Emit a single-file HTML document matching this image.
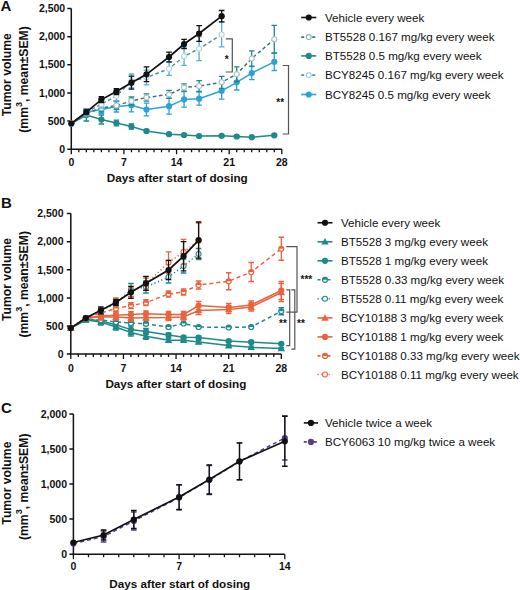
<!DOCTYPE html><html><head><meta charset="utf-8"><style>
html,body{margin:0;padding:0;background:#fff;}
svg{display:block;}
text{font-family:"Liberation Sans",sans-serif;fill:#111;}
.tl{font-size:10.5px;font-weight:bold;}
.at{font-size:12.2px;font-weight:bold;}
.xt{font-size:11.7px;font-weight:bold;}
.pl{font-size:15px;font-weight:bold;}
.lg{font-size:11.6px;}
.st{font-size:10px;font-weight:bold;}
</style></head><body>
<svg width="520" height="590" viewBox="0 0 520 590">
<text x="0.5" y="11.2" class="pl">A</text>
<path d="M71.3 8.5V149.2H281.8" fill="none" stroke="#111" stroke-width="1.5"/>
<path d="M67.3 149.2H71.3M67.3 121.06H71.3M67.3 92.92H71.3M67.3 64.78H71.3M67.3 36.64H71.3M67.3 8.5H71.3" stroke="#111" stroke-width="1.5"/>
<path d="M71.3 149.2V154.2M78.82 149.2V152.2M86.34 149.2V152.2M93.85 149.2V152.2M101.37 149.2V152.2M108.89 149.2V152.2M116.41 149.2V152.2M123.93 149.2V154.2M131.44 149.2V152.2M138.96 149.2V152.2M146.48 149.2V152.2M154 149.2V152.2M161.52 149.2V152.2M169.03 149.2V152.2M176.55 149.2V154.2M184.07 149.2V152.2M191.59 149.2V152.2M199.11 149.2V152.2M206.62 149.2V152.2M214.14 149.2V152.2M221.66 149.2V152.2M229.18 149.2V154.2M236.7 149.2V152.2M244.21 149.2V152.2M251.73 149.2V152.2M259.25 149.2V152.2M266.77 149.2V152.2M274.29 149.2V152.2M281.8 149.2V154.2" stroke="#111" stroke-width="1.3"/>
<text x="65.2" y="152.9" class="tl" text-anchor="end">0</text>
<text x="65.2" y="124.76" class="tl" text-anchor="end">500</text>
<text x="65.2" y="96.62" class="tl" text-anchor="end">1,000</text>
<text x="65.2" y="68.48" class="tl" text-anchor="end">1,500</text>
<text x="65.2" y="40.34" class="tl" text-anchor="end">2,000</text>
<text x="65.2" y="12.2" class="tl" text-anchor="end">2,500</text>
<text x="71.3" y="165.6" class="tl" text-anchor="middle">0</text>
<text x="123.93" y="165.6" class="tl" text-anchor="middle">7</text>
<text x="176.55" y="165.6" class="tl" text-anchor="middle">14</text>
<text x="229.18" y="165.6" class="tl" text-anchor="middle">21</text>
<text x="281.8" y="165.6" class="tl" text-anchor="middle">28</text>
<text transform="translate(11.2,74.7) rotate(-90)" class="at" text-anchor="middle">Tumor volume</text>
<text transform="translate(28,79.5) rotate(-90)" class="at" text-anchor="middle">(mm<tspan font-size="9px" dy="-6">3</tspan><tspan dy="6">, mean±SEM)</tspan></text>
<text x="177.3" y="182.4" class="xt" text-anchor="middle">Days after start of dosing</text>
<path d="M86.34 109V121M83.54 109H89.14M83.54 121H89.14M101.37 115V124M98.57 115H104.17M98.57 124H104.17M116.41 120.2V125.8M113.61 120.2H119.21M113.61 125.8H119.21M131.44 123.9V129.1M128.64 123.9H134.24M128.64 129.1H134.24M146.48 129.5V132.5M143.68 129.5H149.28M143.68 132.5H149.28M169.03 133.2V135.2M166.23 133.2H171.83M166.23 135.2H171.83M184.07 134V136M181.27 134H186.87M181.27 136H186.87M199.11 135V137M196.31 135H201.91M196.31 137H201.91M221.66 134.8V136.8M218.86 134.8H224.46M218.86 136.8H224.46M236.7 135.5V137.5M233.9 135.5H239.5M233.9 137.5H239.5M251.73 136.2V138.2M248.93 136.2H254.53M248.93 138.2H254.53M274.29 134.1V136.5M271.49 134.1H277.09M271.49 136.5H277.09" stroke="#1e8a8c" stroke-width="1.3" fill="none"/>
<path d="M71.3 123.5 L86.34 115 L101.37 119.5 L116.41 123 L131.44 126.5 L146.48 131 L169.03 134.2 L184.07 135 L199.11 136 L221.66 135.8 L236.7 136.5 L251.73 137.2 L274.29 135.3" stroke="#1e8a8c" stroke-width="1.5" fill="none"/>
<circle cx="71.3" cy="123.5" r="3.1" fill="#1e8a8c"/>
<circle cx="86.34" cy="115" r="3.1" fill="#1e8a8c"/>
<circle cx="101.37" cy="119.5" r="3.1" fill="#1e8a8c"/>
<circle cx="116.41" cy="123" r="3.1" fill="#1e8a8c"/>
<circle cx="131.44" cy="126.5" r="3.1" fill="#1e8a8c"/>
<circle cx="146.48" cy="131" r="3.1" fill="#1e8a8c"/>
<circle cx="169.03" cy="134.2" r="3.1" fill="#1e8a8c"/>
<circle cx="184.07" cy="135" r="3.1" fill="#1e8a8c"/>
<circle cx="199.11" cy="136" r="3.1" fill="#1e8a8c"/>
<circle cx="221.66" cy="135.8" r="3.1" fill="#1e8a8c"/>
<circle cx="236.7" cy="136.5" r="3.1" fill="#1e8a8c"/>
<circle cx="251.73" cy="137.2" r="3.1" fill="#1e8a8c"/>
<circle cx="274.29" cy="135.3" r="3.1" fill="#1e8a8c"/>
<path d="M86.34 109V115M83.54 109H89.14M83.54 115H89.14M101.37 105.5V113.5M98.57 105.5H104.17M98.57 113.5H104.17M116.41 101V112M113.61 101H119.21M113.61 112H119.21M131.44 98.8V111.8M128.64 98.8H134.24M128.64 111.8H134.24M146.48 103.1V115.9M143.68 103.1H149.28M143.68 115.9H149.28M169.03 98.2V114.2M166.23 98.2H171.83M166.23 114.2H171.83M184.07 91.6V107.2M181.27 91.6H186.87M181.27 107.2H186.87M199.11 92.2V105.2M196.31 92.2H201.91M196.31 105.2H201.91M221.66 82.4V99.2M218.86 82.4H224.46M218.86 99.2H224.46M236.7 74.6V90M233.9 74.6H239.5M233.9 90H239.5M251.73 66.6V79.6M248.93 66.6H254.53M248.93 79.6H254.53M274.29 53.1V70.5M271.49 53.1H277.09M271.49 70.5H277.09" stroke="#2ea2d8" stroke-width="1.3" fill="none"/>
<path d="M71.3 123.5 L86.34 112 L101.37 109.5 L116.41 106.5 L131.44 105.3 L146.48 109.5 L169.03 106.2 L184.07 99.4 L199.11 98.7 L221.66 90.8 L236.7 82.3 L251.73 73.1 L274.29 61.8" stroke="#2ea2d8" stroke-width="1.5" fill="none"/>
<circle cx="71.3" cy="123.5" r="3.1" fill="#2ea2d8"/>
<circle cx="86.34" cy="112" r="3.1" fill="#2ea2d8"/>
<circle cx="101.37" cy="109.5" r="3.1" fill="#2ea2d8"/>
<circle cx="116.41" cy="106.5" r="3.1" fill="#2ea2d8"/>
<circle cx="131.44" cy="105.3" r="3.1" fill="#2ea2d8"/>
<circle cx="146.48" cy="109.5" r="3.1" fill="#2ea2d8"/>
<circle cx="169.03" cy="106.2" r="3.1" fill="#2ea2d8"/>
<circle cx="184.07" cy="99.4" r="3.1" fill="#2ea2d8"/>
<circle cx="199.11" cy="98.7" r="3.1" fill="#2ea2d8"/>
<circle cx="221.66" cy="90.8" r="3.1" fill="#2ea2d8"/>
<circle cx="236.7" cy="82.3" r="3.1" fill="#2ea2d8"/>
<circle cx="251.73" cy="73.1" r="3.1" fill="#2ea2d8"/>
<circle cx="274.29" cy="61.8" r="3.1" fill="#2ea2d8"/>
<path d="M86.34 110.5V116.5M83.54 110.5H89.14M83.54 116.5H89.14M101.37 104V112M98.57 104H104.17M98.57 112H104.17M116.41 101.5V109.5M113.61 101.5H119.21M113.61 109.5H119.21M131.44 97V105M128.64 97H134.24M128.64 105H134.24M146.48 93.8V101.2M143.68 93.8H149.28M143.68 101.2H149.28M169.03 90.4V98.4M166.23 90.4H171.83M166.23 98.4H171.83M184.07 83.8V91.2M181.27 83.8H186.87M181.27 91.2H186.87M199.11 80.7V91.3M196.31 80.7H201.91M196.31 91.3H201.91M221.66 76.3V88.3M218.86 76.3H224.46M218.86 88.3H224.46M236.7 66.9V81.5M233.9 66.9H239.5M233.9 81.5H239.5M251.73 50.8V66.2M248.93 50.8H254.53M248.93 66.2H254.53M274.29 25.4V53M271.49 25.4H277.09M271.49 53H277.09" stroke="#1e8a8c" stroke-width="1.3" fill="none"/>
<path d="M71.3 123.5 L86.34 113.5 L101.37 108 L116.41 105.5 L131.44 101 L146.48 97.5 L169.03 94.4 L184.07 87.5 L199.11 86 L221.66 82.3 L236.7 74.2 L251.73 58.5 L274.29 39.2" stroke="#3f7377" stroke-width="1.5" fill="none" stroke-dasharray="3.6 2.6"/>
<circle cx="71.3" cy="123.5" r="2.5" fill="#fff" stroke="#a3c3c5" stroke-width="1.1"/>
<circle cx="86.34" cy="113.5" r="2.5" fill="#fff" stroke="#a3c3c5" stroke-width="1.1"/>
<circle cx="101.37" cy="108" r="2.5" fill="#fff" stroke="#a3c3c5" stroke-width="1.1"/>
<circle cx="116.41" cy="105.5" r="2.5" fill="#fff" stroke="#a3c3c5" stroke-width="1.1"/>
<circle cx="131.44" cy="101" r="2.5" fill="#fff" stroke="#a3c3c5" stroke-width="1.1"/>
<circle cx="146.48" cy="97.5" r="2.5" fill="#fff" stroke="#a3c3c5" stroke-width="1.1"/>
<circle cx="169.03" cy="94.4" r="2.5" fill="#fff" stroke="#a3c3c5" stroke-width="1.1"/>
<circle cx="184.07" cy="87.5" r="2.5" fill="#fff" stroke="#a3c3c5" stroke-width="1.1"/>
<circle cx="199.11" cy="86" r="2.5" fill="#fff" stroke="#a3c3c5" stroke-width="1.1"/>
<circle cx="221.66" cy="82.3" r="2.5" fill="#fff" stroke="#a3c3c5" stroke-width="1.1"/>
<circle cx="236.7" cy="74.2" r="2.5" fill="#fff" stroke="#a3c3c5" stroke-width="1.1"/>
<circle cx="251.73" cy="58.5" r="2.5" fill="#fff" stroke="#a3c3c5" stroke-width="1.1"/>
<circle cx="274.29" cy="39.2" r="2.5" fill="#fff" stroke="#a3c3c5" stroke-width="1.1"/>
<path d="M86.34 109.5V115.5M83.54 109.5H89.14M83.54 115.5H89.14M101.37 100V108M98.57 100H104.17M98.57 108H104.17M116.41 91V101M113.61 91H119.21M113.61 101H119.21M131.44 74V88M128.64 74H134.24M128.64 88H134.24M146.48 70.2V84.8M143.68 70.2H149.28M143.68 84.8H149.28M169.03 62.3V75.3M166.23 62.3H171.83M166.23 75.3H171.83M184.07 47.3V65.3M181.27 47.3H186.87M181.27 65.3H186.87M199.11 36.7V60.7M196.31 36.7H201.91M196.31 60.7H201.91M221.66 22.1V46.9M218.86 22.1H224.46M218.86 46.9H224.46" stroke="#5aaed6" stroke-width="1.3" fill="none"/>
<path d="M71.3 123.5 L86.34 112.5 L101.37 104 L116.41 96 L131.44 81 L146.48 77.5 L169.03 68.8 L184.07 56.3 L199.11 48.7 L221.66 34.5" stroke="#5b8f99" stroke-width="1.5" fill="none" stroke-dasharray="3.6 2.6"/>
<circle cx="71.3" cy="123.5" r="2.5" fill="#fff" stroke="#aed6ea" stroke-width="1.1"/>
<circle cx="86.34" cy="112.5" r="2.5" fill="#fff" stroke="#aed6ea" stroke-width="1.1"/>
<circle cx="101.37" cy="104" r="2.5" fill="#fff" stroke="#aed6ea" stroke-width="1.1"/>
<circle cx="116.41" cy="96" r="2.5" fill="#fff" stroke="#aed6ea" stroke-width="1.1"/>
<circle cx="131.44" cy="81" r="2.5" fill="#fff" stroke="#aed6ea" stroke-width="1.1"/>
<circle cx="146.48" cy="77.5" r="2.5" fill="#fff" stroke="#aed6ea" stroke-width="1.1"/>
<circle cx="169.03" cy="68.8" r="2.5" fill="#fff" stroke="#aed6ea" stroke-width="1.1"/>
<circle cx="184.07" cy="56.3" r="2.5" fill="#fff" stroke="#aed6ea" stroke-width="1.1"/>
<circle cx="199.11" cy="48.7" r="2.5" fill="#fff" stroke="#aed6ea" stroke-width="1.1"/>
<circle cx="221.66" cy="34.5" r="2.5" fill="#fff" stroke="#aed6ea" stroke-width="1.1"/>
<path d="M86.34 110.2V114.2M83.54 110.2H89.14M83.54 114.2H89.14M101.37 96.6V102.6M98.57 96.6H104.17M98.57 102.6H104.17M116.41 88.6V94.6M113.61 88.6H119.21M113.61 94.6H119.21M131.44 76.2V89.2M128.64 76.2H134.24M128.64 89.2H134.24M146.48 66.9V81.7M143.68 66.9H149.28M143.68 81.7H149.28M169.03 52.1V61.9M166.23 52.1H171.83M166.23 61.9H171.83M184.07 39.3V48.7M181.27 39.3H186.87M181.27 48.7H186.87M199.11 25.7V41.3M196.31 25.7H201.91M196.31 41.3H201.91M221.66 10.5V21.9M218.86 10.5H224.46M218.86 21.9H224.46" stroke="#111" stroke-width="1.3" fill="none"/>
<path d="M71.3 123.5 L86.34 112.2 L101.37 99.6 L116.41 91.6 L131.44 82.7 L146.48 74.3 L169.03 57 L184.07 44 L199.11 33.5 L221.66 16.2" stroke="#111" stroke-width="1.7" fill="none"/>
<circle cx="71.3" cy="123.5" r="3.1" fill="#111"/>
<circle cx="86.34" cy="112.2" r="3.1" fill="#111"/>
<circle cx="101.37" cy="99.6" r="3.1" fill="#111"/>
<circle cx="116.41" cy="91.6" r="3.1" fill="#111"/>
<circle cx="131.44" cy="82.7" r="3.1" fill="#111"/>
<circle cx="146.48" cy="74.3" r="3.1" fill="#111"/>
<circle cx="169.03" cy="57" r="3.1" fill="#111"/>
<circle cx="184.07" cy="44" r="3.1" fill="#111"/>
<circle cx="199.11" cy="33.5" r="3.1" fill="#111"/>
<circle cx="221.66" cy="16.2" r="3.1" fill="#111"/>
<path d="M225.8 38.8H232.3V72H225.8" fill="none" stroke="#555" stroke-width="1.2"/>
<text x="224.8" y="62.7" class="st">*</text>
<path d="M282.7 65.5H288.5V134H282.7" fill="none" stroke="#555" stroke-width="1.2"/>
<text x="276.3" y="105.6" class="st">**</text>
<path d="M301.2 17.5H316.3" stroke="#111" stroke-width="1.6"/>
<circle cx="308.75" cy="17.5" r="3.1" fill="#111"/>
<text x="325" y="21.5" class="lg">Vehicle every week</text>
<path d="M301.2 37.1H316.3" stroke="#3f7377" stroke-width="1.6" stroke-dasharray="3 2.5"/>
<circle cx="308.75" cy="37.1" r="2.5" fill="#fff" stroke="#8ab5b8" stroke-width="1.1"/>
<text x="325" y="41.1" class="lg">BT5528 0.167 mg/kg every week</text>
<path d="M301.2 55.9H316.3" stroke="#3a7f82" stroke-width="1.6"/>
<circle cx="308.75" cy="55.9" r="3.1" fill="#1e8a8c"/>
<text x="325" y="59.9" class="lg">BT5528 0.5 mg/kg every week</text>
<path d="M301.2 75.1H316.3" stroke="#5b8f99" stroke-width="1.6" stroke-dasharray="3 2.5"/>
<circle cx="308.75" cy="75.1" r="2.5" fill="#fff" stroke="#9fd0e6" stroke-width="1.1"/>
<text x="325" y="79.1" class="lg">BCY8245 0.167 mg/kg every week</text>
<path d="M301.2 94.5H316.3" stroke="#2ea2d8" stroke-width="1.6"/>
<circle cx="308.75" cy="94.5" r="3.1" fill="#2ea2d8"/>
<text x="325" y="98.5" class="lg">BCY8245 0.5 mg/kg every week</text>
<text x="1" y="207.6" class="pl">B</text>
<path d="M70.8 213.6V354.1H281.3" fill="none" stroke="#111" stroke-width="1.5"/>
<path d="M66.8 354.1H70.8M66.8 326H70.8M66.8 297.9H70.8M66.8 269.8H70.8M66.8 241.7H70.8M66.8 213.6H70.8" stroke="#111" stroke-width="1.5"/>
<path d="M70.8 354.1V359.1M78.32 354.1V357.1M85.84 354.1V357.1M93.35 354.1V357.1M100.87 354.1V357.1M108.39 354.1V357.1M115.91 354.1V357.1M123.43 354.1V359.1M130.94 354.1V357.1M138.46 354.1V357.1M145.98 354.1V357.1M153.5 354.1V357.1M161.02 354.1V357.1M168.53 354.1V357.1M176.05 354.1V359.1M183.57 354.1V357.1M191.09 354.1V357.1M198.61 354.1V357.1M206.12 354.1V357.1M213.64 354.1V357.1M221.16 354.1V357.1M228.68 354.1V359.1M236.2 354.1V357.1M243.71 354.1V357.1M251.23 354.1V357.1M258.75 354.1V357.1M266.27 354.1V357.1M273.79 354.1V357.1M281.3 354.1V359.1" stroke="#111" stroke-width="1.3"/>
<text x="63.5" y="357.8" class="tl" text-anchor="end">0</text>
<text x="63.5" y="329.7" class="tl" text-anchor="end">500</text>
<text x="63.5" y="301.6" class="tl" text-anchor="end">1,000</text>
<text x="63.5" y="273.5" class="tl" text-anchor="end">1,500</text>
<text x="63.5" y="245.4" class="tl" text-anchor="end">2,000</text>
<text x="63.5" y="217.3" class="tl" text-anchor="end">2,500</text>
<text x="70.8" y="372" class="tl" text-anchor="middle">0</text>
<text x="123.43" y="372" class="tl" text-anchor="middle">7</text>
<text x="176.05" y="372" class="tl" text-anchor="middle">14</text>
<text x="228.68" y="372" class="tl" text-anchor="middle">21</text>
<text x="281.3" y="372" class="tl" text-anchor="middle">28</text>
<text transform="translate(11.2,279.5) rotate(-90)" class="at" text-anchor="middle">Tumor volume</text>
<text transform="translate(28,284.3) rotate(-90)" class="at" text-anchor="middle">(mm<tspan font-size="9px" dy="-6">3</tspan><tspan dy="6">, mean±SEM)</tspan></text>
<text x="175.9" y="388.4" class="xt" text-anchor="middle">Days after start of dosing</text>
<path d="M85.84 318V322M83.04 318H88.64M83.04 322H88.64M100.87 319V325M98.07 319H103.67M98.07 325H103.67M115.91 324V330M113.11 324H118.71M113.11 330H118.71M130.94 329V336M128.14 329H133.74M128.14 336H133.74M145.98 333.3V339.3M143.18 333.3H148.78M143.18 339.3H148.78M168.53 338.3V342.3M165.73 338.3H171.33M165.73 342.3H171.33M183.57 338.8V341.8M180.77 338.8H186.37M180.77 341.8H186.37M198.61 340.5V343.5M195.81 340.5H201.41M195.81 343.5H201.41M228.68 344.4V346.8M225.88 344.4H231.48M225.88 346.8H231.48M251.23 346.1V348.5M248.43 346.1H254.03M248.43 348.5H254.03M281.3 347.5V349.5M278.5 347.5H284.1M278.5 349.5H284.1" stroke="#1e8a8c" stroke-width="1.3" fill="none"/>
<path d="M70.8 328 L85.84 320 L100.87 322 L115.91 327 L130.94 332.5 L145.98 336.3 L168.53 340.3 L183.57 340.3 L198.61 342 L228.68 345.6 L251.23 347.3 L281.3 348.5" stroke="#1e8a8c" stroke-width="1.5" fill="none"/>
<path d="M70.8 324.28L74.52 330.79L67.08 330.79Z" fill="#1e8a8c"/>
<path d="M85.84 316.28L89.56 322.79L82.12 322.79Z" fill="#1e8a8c"/>
<path d="M100.87 318.28L104.59 324.79L97.15 324.79Z" fill="#1e8a8c"/>
<path d="M115.91 323.28L119.63 329.79L112.19 329.79Z" fill="#1e8a8c"/>
<path d="M130.94 328.78L134.66 335.29L127.22 335.29Z" fill="#1e8a8c"/>
<path d="M145.98 332.58L149.7 339.09L142.26 339.09Z" fill="#1e8a8c"/>
<path d="M168.53 336.58L172.25 343.09L164.81 343.09Z" fill="#1e8a8c"/>
<path d="M183.57 336.58L187.29 343.09L179.85 343.09Z" fill="#1e8a8c"/>
<path d="M198.61 338.28L202.33 344.79L194.89 344.79Z" fill="#1e8a8c"/>
<path d="M228.68 341.88L232.4 348.39L224.96 348.39Z" fill="#1e8a8c"/>
<path d="M251.23 343.58L254.95 350.09L247.51 350.09Z" fill="#1e8a8c"/>
<path d="M281.3 344.78L285.02 351.29L277.58 351.29Z" fill="#1e8a8c"/>
<path d="M85.84 317V321M83.04 317H88.64M83.04 321H88.64M100.87 318V324M98.07 318H103.67M98.07 324H103.67M115.91 321.8V327.8M113.11 321.8H118.71M113.11 327.8H118.71M130.94 326.1V333.1M128.14 326.1H133.74M128.14 333.1H133.74M145.98 328.5V334.5M143.18 328.5H148.78M143.18 334.5H148.78M168.53 333V337M165.73 333H171.33M165.73 337H171.33M183.57 335.8V338.8M180.77 335.8H186.37M180.77 338.8H186.37M198.61 336V339M195.81 336H201.41M195.81 339H201.41M228.68 339.9V342.3M225.88 339.9H231.48M225.88 342.3H231.48M251.23 341V343.4M248.43 341H254.03M248.43 343.4H254.03M281.3 342.8V344.8M278.5 342.8H284.1M278.5 344.8H284.1" stroke="#1e8a8c" stroke-width="1.3" fill="none"/>
<path d="M70.8 328 L85.84 319 L100.87 321 L115.91 324.8 L130.94 329.6 L145.98 331.5 L168.53 335 L183.57 337.3 L198.61 337.5 L228.68 341.1 L251.23 342.2 L281.3 343.8" stroke="#1e8a8c" stroke-width="1.5" fill="none"/>
<circle cx="70.8" cy="328" r="3.1" fill="#1e8a8c"/>
<circle cx="85.84" cy="319" r="3.1" fill="#1e8a8c"/>
<circle cx="100.87" cy="321" r="3.1" fill="#1e8a8c"/>
<circle cx="115.91" cy="324.8" r="3.1" fill="#1e8a8c"/>
<circle cx="130.94" cy="329.6" r="3.1" fill="#1e8a8c"/>
<circle cx="145.98" cy="331.5" r="3.1" fill="#1e8a8c"/>
<circle cx="168.53" cy="335" r="3.1" fill="#1e8a8c"/>
<circle cx="183.57" cy="337.3" r="3.1" fill="#1e8a8c"/>
<circle cx="198.61" cy="337.5" r="3.1" fill="#1e8a8c"/>
<circle cx="228.68" cy="341.1" r="3.1" fill="#1e8a8c"/>
<circle cx="251.23" cy="342.2" r="3.1" fill="#1e8a8c"/>
<circle cx="281.3" cy="343.8" r="3.1" fill="#1e8a8c"/>
<path d="M85.84 317V321M83.04 317H88.64M83.04 321H88.64M100.87 317.5V322.5M98.07 317.5H103.67M98.07 322.5H103.67M115.91 319.5V324.5M113.11 319.5H118.71M113.11 324.5H118.71M130.94 321V325M128.14 321H133.74M128.14 325H133.74M145.98 322.3V325.3M143.18 322.3H148.78M143.18 325.3H148.78M168.53 326V328M165.73 326H171.33M165.73 328H171.33M183.57 322.5V324.5M180.77 322.5H186.37M180.77 324.5H186.37M198.61 326V328M195.81 326H201.41M195.81 328H201.41M228.68 326.7V328.3M225.88 326.7H231.48M225.88 328.3H231.48M251.23 326.2V327.8M248.43 326.2H254.03M248.43 327.8H254.03M281.3 307.75V314.75M278.5 307.75H284.1M278.5 314.75H284.1" stroke="#1e8a8c" stroke-width="1.3" fill="none"/>
<path d="M70.8 328 L85.84 319 L100.87 320 L115.91 322 L130.94 323 L145.98 323.8 L168.53 327 L183.57 323.5 L198.61 327 L228.68 327.5 L251.23 327 L281.3 311.25" stroke="#1e8a8c" stroke-width="1.5" fill="none" stroke-dasharray="4 3"/>
<circle cx="70.8" cy="328" r="2.5" fill="#fff" stroke="#1e8a8c" stroke-width="1.2"/><path d="M68.3 328A2.5 2.5 0 0 1 73.3 328Z" fill="#1e8a8c"/>
<circle cx="85.84" cy="319" r="2.5" fill="#fff" stroke="#1e8a8c" stroke-width="1.2"/><path d="M83.34 319A2.5 2.5 0 0 1 88.34 319Z" fill="#1e8a8c"/>
<circle cx="100.87" cy="320" r="2.5" fill="#fff" stroke="#1e8a8c" stroke-width="1.2"/><path d="M98.37 320A2.5 2.5 0 0 1 103.37 320Z" fill="#1e8a8c"/>
<circle cx="115.91" cy="322" r="2.5" fill="#fff" stroke="#1e8a8c" stroke-width="1.2"/><path d="M113.41 322A2.5 2.5 0 0 1 118.41 322Z" fill="#1e8a8c"/>
<circle cx="130.94" cy="323" r="2.5" fill="#fff" stroke="#1e8a8c" stroke-width="1.2"/><path d="M128.44 323A2.5 2.5 0 0 1 133.44 323Z" fill="#1e8a8c"/>
<circle cx="145.98" cy="323.8" r="2.5" fill="#fff" stroke="#1e8a8c" stroke-width="1.2"/><path d="M143.48 323.8A2.5 2.5 0 0 1 148.48 323.8Z" fill="#1e8a8c"/>
<circle cx="168.53" cy="327" r="2.5" fill="#fff" stroke="#1e8a8c" stroke-width="1.2"/><path d="M166.03 327A2.5 2.5 0 0 1 171.03 327Z" fill="#1e8a8c"/>
<circle cx="183.57" cy="323.5" r="2.5" fill="#fff" stroke="#1e8a8c" stroke-width="1.2"/><path d="M181.07 323.5A2.5 2.5 0 0 1 186.07 323.5Z" fill="#1e8a8c"/>
<circle cx="198.61" cy="327" r="2.5" fill="#fff" stroke="#1e8a8c" stroke-width="1.2"/><path d="M196.11 327A2.5 2.5 0 0 1 201.11 327Z" fill="#1e8a8c"/>
<circle cx="228.68" cy="327.5" r="2.5" fill="#fff" stroke="#1e8a8c" stroke-width="1.2"/><path d="M226.18 327.5A2.5 2.5 0 0 1 231.18 327.5Z" fill="#1e8a8c"/>
<circle cx="251.23" cy="327" r="2.5" fill="#fff" stroke="#1e8a8c" stroke-width="1.2"/><path d="M248.73 327A2.5 2.5 0 0 1 253.73 327Z" fill="#1e8a8c"/>
<circle cx="281.3" cy="311.25" r="2.5" fill="#fff" stroke="#1e8a8c" stroke-width="1.2"/><path d="M278.8 311.25A2.5 2.5 0 0 1 283.8 311.25Z" fill="#1e8a8c"/>
<path d="M85.84 316V320M83.04 316H88.64M83.04 320H88.64M100.87 314V320M98.07 314H103.67M98.07 320H103.67M115.91 314V320M113.11 314H118.71M113.11 320H118.71M130.94 315V321M128.14 315H133.74M128.14 321H133.74M145.98 314.7V320.7M143.18 314.7H148.78M143.18 320.7H148.78M168.53 314.5V320.5M165.73 314.5H171.33M165.73 320.5H171.33M183.57 314V320M180.77 314H186.37M180.77 320H186.37M198.61 306.5V314.5M195.81 306.5H201.41M195.81 314.5H201.41M228.68 305.5V313.5M225.88 305.5H231.48M225.88 313.5H231.48M251.23 303V311M248.43 303H254.03M248.43 311H254.03M281.3 283.5V301.5M278.5 283.5H284.1M278.5 301.5H284.1" stroke="#e8643c" stroke-width="1.3" fill="none"/>
<path d="M70.8 328 L85.84 318 L100.87 317 L115.91 317 L130.94 318 L145.98 317.7 L168.53 317.5 L183.57 317 L198.61 310.5 L228.68 309.5 L251.23 307 L281.3 292.5" stroke="#e8643c" stroke-width="1.5" fill="none"/>
<path d="M70.8 324.28L74.52 330.79L67.08 330.79Z" fill="#e8643c"/>
<path d="M85.84 314.28L89.56 320.79L82.12 320.79Z" fill="#e8643c"/>
<path d="M100.87 313.28L104.59 319.79L97.15 319.79Z" fill="#e8643c"/>
<path d="M115.91 313.28L119.63 319.79L112.19 319.79Z" fill="#e8643c"/>
<path d="M130.94 314.28L134.66 320.79L127.22 320.79Z" fill="#e8643c"/>
<path d="M145.98 313.98L149.7 320.49L142.26 320.49Z" fill="#e8643c"/>
<path d="M168.53 313.78L172.25 320.29L164.81 320.29Z" fill="#e8643c"/>
<path d="M183.57 313.28L187.29 319.79L179.85 319.79Z" fill="#e8643c"/>
<path d="M198.61 306.78L202.33 313.29L194.89 313.29Z" fill="#e8643c"/>
<path d="M228.68 305.78L232.4 312.29L224.96 312.29Z" fill="#e8643c"/>
<path d="M251.23 303.28L254.95 309.79L247.51 309.79Z" fill="#e8643c"/>
<path d="M281.3 288.78L285.02 295.29L277.58 295.29Z" fill="#e8643c"/>
<path d="M85.84 316V320M83.04 316H88.64M83.04 320H88.64M100.87 313V319M98.07 313H103.67M98.07 319H103.67M115.91 312.2V318.2M113.11 312.2H118.71M113.11 318.2H118.71M130.94 311.6V317.6M128.14 311.6H133.74M128.14 317.6H133.74M145.98 310.8V316.8M143.18 310.8H148.78M143.18 316.8H148.78M168.53 311.5V317.5M165.73 311.5H171.33M165.73 317.5H171.33M183.57 311.5V317.5M180.77 311.5H186.37M180.77 317.5H186.37M198.61 301.5V309.5M195.81 301.5H201.41M195.81 309.5H201.41M228.68 303.5V311.5M225.88 303.5H231.48M225.88 311.5H231.48M251.23 301V309M248.43 301H254.03M248.43 309H254.03M281.3 281.5V299.5M278.5 281.5H284.1M278.5 299.5H284.1" stroke="#e8643c" stroke-width="1.3" fill="none"/>
<path d="M70.8 328 L85.84 318 L100.87 316 L115.91 315.2 L130.94 314.6 L145.98 313.8 L168.53 314.5 L183.57 314.5 L198.61 305.5 L228.68 307.5 L251.23 305 L281.3 290.5" stroke="#e8643c" stroke-width="1.5" fill="none"/>
<circle cx="70.8" cy="328" r="3.1" fill="#e8643c"/>
<circle cx="85.84" cy="318" r="3.1" fill="#e8643c"/>
<circle cx="100.87" cy="316" r="3.1" fill="#e8643c"/>
<circle cx="115.91" cy="315.2" r="3.1" fill="#e8643c"/>
<circle cx="130.94" cy="314.6" r="3.1" fill="#e8643c"/>
<circle cx="145.98" cy="313.8" r="3.1" fill="#e8643c"/>
<circle cx="168.53" cy="314.5" r="3.1" fill="#e8643c"/>
<circle cx="183.57" cy="314.5" r="3.1" fill="#e8643c"/>
<circle cx="198.61" cy="305.5" r="3.1" fill="#e8643c"/>
<circle cx="228.68" cy="307.5" r="3.1" fill="#e8643c"/>
<circle cx="251.23" cy="305" r="3.1" fill="#e8643c"/>
<circle cx="281.3" cy="290.5" r="3.1" fill="#e8643c"/>
<path d="M85.84 316V320M83.04 316H88.64M83.04 320H88.64M100.87 310V316M98.07 310H103.67M98.07 316H103.67M115.91 305.5V311.5M113.11 305.5H118.71M113.11 311.5H118.71M130.94 302.6V308.6M128.14 302.6H133.74M128.14 308.6H133.74M145.98 299.7V305.7M143.18 299.7H148.78M143.18 305.7H148.78M168.53 291V297M165.73 291H171.33M165.73 297H171.33M183.57 289V295M180.77 289H186.37M180.77 295H186.37M198.61 281V289M195.81 281H201.41M195.81 289H201.41M228.68 272.75V289.75M225.88 272.75H231.48M225.88 289.75H231.48M251.23 262.5V281.5M248.43 262.5H254.03M248.43 281.5H254.03M281.3 237.25V260.25M278.5 237.25H284.1M278.5 260.25H284.1" stroke="#e8643c" stroke-width="1.3" fill="none"/>
<path d="M70.8 328 L85.84 318 L100.87 313 L115.91 308.5 L130.94 305.6 L145.98 302.7 L168.53 294 L183.57 292 L198.61 285 L228.68 281.25 L251.23 272 L281.3 248.75" stroke="#e8643c" stroke-width="1.5" fill="none" stroke-dasharray="4 3"/>
<circle cx="70.8" cy="328" r="2.5" fill="#fff" stroke="#e8643c" stroke-width="1.2"/><path d="M68.3 328A2.5 2.5 0 0 1 73.3 328Z" fill="#e8643c"/>
<circle cx="85.84" cy="318" r="2.5" fill="#fff" stroke="#e8643c" stroke-width="1.2"/><path d="M83.34 318A2.5 2.5 0 0 1 88.34 318Z" fill="#e8643c"/>
<circle cx="100.87" cy="313" r="2.5" fill="#fff" stroke="#e8643c" stroke-width="1.2"/><path d="M98.37 313A2.5 2.5 0 0 1 103.37 313Z" fill="#e8643c"/>
<circle cx="115.91" cy="308.5" r="2.5" fill="#fff" stroke="#e8643c" stroke-width="1.2"/><path d="M113.41 308.5A2.5 2.5 0 0 1 118.41 308.5Z" fill="#e8643c"/>
<circle cx="130.94" cy="305.6" r="2.5" fill="#fff" stroke="#e8643c" stroke-width="1.2"/><path d="M128.44 305.6A2.5 2.5 0 0 1 133.44 305.6Z" fill="#e8643c"/>
<circle cx="145.98" cy="302.7" r="2.5" fill="#fff" stroke="#e8643c" stroke-width="1.2"/><path d="M143.48 302.7A2.5 2.5 0 0 1 148.48 302.7Z" fill="#e8643c"/>
<circle cx="168.53" cy="294" r="2.5" fill="#fff" stroke="#e8643c" stroke-width="1.2"/><path d="M166.03 294A2.5 2.5 0 0 1 171.03 294Z" fill="#e8643c"/>
<circle cx="183.57" cy="292" r="2.5" fill="#fff" stroke="#e8643c" stroke-width="1.2"/><path d="M181.07 292A2.5 2.5 0 0 1 186.07 292Z" fill="#e8643c"/>
<circle cx="198.61" cy="285" r="2.5" fill="#fff" stroke="#e8643c" stroke-width="1.2"/><path d="M196.11 285A2.5 2.5 0 0 1 201.11 285Z" fill="#e8643c"/>
<circle cx="228.68" cy="281.25" r="2.5" fill="#fff" stroke="#e8643c" stroke-width="1.2"/><path d="M226.18 281.25A2.5 2.5 0 0 1 231.18 281.25Z" fill="#e8643c"/>
<circle cx="251.23" cy="272" r="2.5" fill="#fff" stroke="#e8643c" stroke-width="1.2"/><path d="M248.73 272A2.5 2.5 0 0 1 253.73 272Z" fill="#e8643c"/>
<circle cx="281.3" cy="248.75" r="2.5" fill="#fff" stroke="#e8643c" stroke-width="1.2"/><path d="M278.8 248.75A2.5 2.5 0 0 1 283.8 248.75Z" fill="#e8643c"/>
<path d="M85.84 316V320M83.04 316H88.64M83.04 320H88.64M100.87 308V314M98.07 308H103.67M98.07 314H103.67M115.91 300V306M113.11 300H118.71M113.11 306H118.71M130.94 283.5V296.5M128.14 283.5H133.74M128.14 296.5H133.74M145.98 281V293M143.18 281H148.78M143.18 293H148.78M168.53 271V283M165.73 271H171.33M165.73 283H171.33M183.57 259V273M180.77 259H186.37M180.77 273H186.37M198.61 248.5V259.5M195.81 248.5H201.41M195.81 259.5H201.41" stroke="#1e8a8c" stroke-width="1.3" fill="none"/>
<path d="M70.8 328 L85.84 318 L100.87 311 L115.91 303 L130.94 290 L145.98 287 L168.53 277 L183.57 266 L198.61 254" stroke="#1e8a8c" stroke-width="1.5" fill="none" stroke-dasharray="1.2 2.5"/>
<circle cx="70.8" cy="328" r="2.5" fill="#fff" stroke="#1e8a8c" stroke-width="1.1"/>
<circle cx="85.84" cy="318" r="2.5" fill="#fff" stroke="#1e8a8c" stroke-width="1.1"/>
<circle cx="100.87" cy="311" r="2.5" fill="#fff" stroke="#1e8a8c" stroke-width="1.1"/>
<circle cx="115.91" cy="303" r="2.5" fill="#fff" stroke="#1e8a8c" stroke-width="1.1"/>
<circle cx="130.94" cy="290" r="2.5" fill="#fff" stroke="#1e8a8c" stroke-width="1.1"/>
<circle cx="145.98" cy="287" r="2.5" fill="#fff" stroke="#1e8a8c" stroke-width="1.1"/>
<circle cx="168.53" cy="277" r="2.5" fill="#fff" stroke="#1e8a8c" stroke-width="1.1"/>
<circle cx="183.57" cy="266" r="2.5" fill="#fff" stroke="#1e8a8c" stroke-width="1.1"/>
<circle cx="198.61" cy="254" r="2.5" fill="#fff" stroke="#1e8a8c" stroke-width="1.1"/>
<path d="M85.84 316V320M83.04 316H88.64M83.04 320H88.64M100.87 308V314M98.07 308H103.67M98.07 314H103.67M115.91 298V306M113.11 298H118.71M113.11 306H118.71M130.94 287V297M128.14 287H133.74M128.14 297H133.74M145.98 278V290M143.18 278H148.78M143.18 290H148.78M168.53 251.9V273.3M165.73 251.9H171.33M165.73 273.3H171.33M183.57 239.4V264.4M180.77 239.4H186.37M180.77 264.4H186.37M198.61 223.2V258.4M195.81 223.2H201.41M195.81 258.4H201.41" stroke="#e8643c" stroke-width="1.3" fill="none"/>
<path d="M70.8 328 L85.84 318 L100.87 311 L115.91 302 L130.94 292 L145.98 284 L168.53 262.6 L183.57 251.9 L198.61 240.8" stroke="#e8643c" stroke-width="1.5" fill="none" stroke-dasharray="1.2 2.5"/>
<circle cx="70.8" cy="328" r="2.5" fill="#fff" stroke="#e8643c" stroke-width="1.1"/>
<circle cx="85.84" cy="318" r="2.5" fill="#fff" stroke="#e8643c" stroke-width="1.1"/>
<circle cx="100.87" cy="311" r="2.5" fill="#fff" stroke="#e8643c" stroke-width="1.1"/>
<circle cx="115.91" cy="302" r="2.5" fill="#fff" stroke="#e8643c" stroke-width="1.1"/>
<circle cx="130.94" cy="292" r="2.5" fill="#fff" stroke="#e8643c" stroke-width="1.1"/>
<circle cx="145.98" cy="284" r="2.5" fill="#fff" stroke="#e8643c" stroke-width="1.1"/>
<circle cx="168.53" cy="262.6" r="2.5" fill="#fff" stroke="#e8643c" stroke-width="1.1"/>
<circle cx="183.57" cy="251.9" r="2.5" fill="#fff" stroke="#e8643c" stroke-width="1.1"/>
<circle cx="198.61" cy="240.8" r="2.5" fill="#fff" stroke="#e8643c" stroke-width="1.1"/>
<path d="M85.84 316.6V319.6M83.04 316.6H88.64M83.04 319.6H88.64M100.87 306.8V313.8M98.07 306.8H103.67M98.07 313.8H103.67M115.91 299.4V305.4M113.11 299.4H118.71M113.11 305.4H118.71M130.94 286.3V298.3M128.14 286.3H133.74M128.14 298.3H133.74M145.98 276.3V290.3M143.18 276.3H148.78M143.18 290.3H148.78M168.53 260.4V279.6M165.73 260.4H171.33M165.73 279.6H171.33M183.57 241.6V270.8M180.77 241.6H186.37M180.77 270.8H186.37M198.61 222V258.2M195.81 222H201.41M195.81 258.2H201.41" stroke="#111" stroke-width="1.3" fill="none"/>
<path d="M70.8 328.1 L85.84 318.1 L100.87 310.3 L115.91 302.4 L130.94 292.3 L145.98 283.3 L168.53 270 L183.57 256.2 L198.61 240.1" stroke="#111" stroke-width="1.7" fill="none"/>
<circle cx="70.8" cy="328.1" r="3.1" fill="#111"/>
<circle cx="85.84" cy="318.1" r="3.1" fill="#111"/>
<circle cx="100.87" cy="310.3" r="3.1" fill="#111"/>
<circle cx="115.91" cy="302.4" r="3.1" fill="#111"/>
<circle cx="130.94" cy="292.3" r="3.1" fill="#111"/>
<circle cx="145.98" cy="283.3" r="3.1" fill="#111"/>
<circle cx="168.53" cy="270" r="3.1" fill="#111"/>
<circle cx="183.57" cy="256.2" r="3.1" fill="#111"/>
<circle cx="198.61" cy="240.1" r="3.1" fill="#111"/>
<path d="M286.3 246.7H297V312.2H286.3" fill="none" stroke="#555" stroke-width="1.2"/>
<text x="300.5" y="283" class="st">***</text>
<path d="M286.3 289.8H289.7V345.7H286.3" fill="none" stroke="#555" stroke-width="1.2"/>
<text x="279" y="327" class="st">**</text>
<path d="M291.3 289.8H294.8V349.2H291.3" fill="none" stroke="#555" stroke-width="1.2"/>
<text x="297" y="327" class="st">**</text>
<path d="M317.5 222.75H332.5" stroke="#111" stroke-width="1.6"/>
<circle cx="325" cy="222.75" r="3.1" fill="#111"/>
<text x="341" y="226.75" class="lg">Vehicle every week</text>
<path d="M317.5 241.8H332.5" stroke="#1e8a8c" stroke-width="1.6"/>
<path d="M325 238.08L328.72 244.59L321.28 244.59Z" fill="#1e8a8c"/>
<text x="341" y="245.8" class="lg">BT5528 3 mg/kg every week</text>
<path d="M317.5 260.8H332.5" stroke="#1e8a8c" stroke-width="1.6"/>
<circle cx="325" cy="260.8" r="3.1" fill="#1e8a8c"/>
<text x="341" y="264.8" class="lg">BT5528 1 mg/kg every week</text>
<path d="M317.5 279.8H332.5" stroke="#1e8a8c" stroke-width="1.6" stroke-dasharray="3 2"/>
<circle cx="325" cy="279.8" r="2.5" fill="#fff" stroke="#1e8a8c" stroke-width="1.2"/><path d="M322.5 279.8A2.5 2.5 0 0 1 327.5 279.8Z" fill="#1e8a8c"/>
<text x="341" y="283.8" class="lg">BT5528 0.33 mg/kg every week</text>
<path d="M317.5 298.8H332.5" stroke="#1e8a8c" stroke-width="1.6" stroke-dasharray="1.2 2.5"/>
<circle cx="325" cy="298.8" r="2.5" fill="#fff" stroke="#1e8a8c" stroke-width="1.1"/>
<text x="341" y="302.8" class="lg">BT5528 0.11 mg/kg every week</text>
<path d="M317.5 317.9H332.5" stroke="#e8643c" stroke-width="1.6"/>
<path d="M325 314.18L328.72 320.69L321.28 320.69Z" fill="#e8643c"/>
<text x="341" y="321.9" class="lg">BCY10188 3 mg/kg every week</text>
<path d="M317.5 336.9H332.5" stroke="#e8643c" stroke-width="1.6"/>
<circle cx="325" cy="336.9" r="3.1" fill="#e8643c"/>
<text x="341" y="340.9" class="lg">BCY10188 1 mg/kg every week</text>
<path d="M317.5 355.9H332.5" stroke="#e8643c" stroke-width="1.6" stroke-dasharray="3 2"/>
<circle cx="325" cy="355.9" r="2.5" fill="#fff" stroke="#e8643c" stroke-width="1.2"/><path d="M322.5 355.9A2.5 2.5 0 0 1 327.5 355.9Z" fill="#e8643c"/>
<text x="341" y="359.9" class="lg">BCY10188 0.33 mg/kg every week</text>
<path d="M317.5 374.5H332.5" stroke="#e8643c" stroke-width="1.6" stroke-dasharray="1.2 2.5"/>
<circle cx="325" cy="374.5" r="2.5" fill="#fff" stroke="#e8643c" stroke-width="1.1"/>
<text x="341" y="378.5" class="lg">BCY10188 0.11 mg/kg every week</text>
<text x="1" y="413.3" class="pl">C</text>
<path d="M73.4 413.9V554.2H284.8" fill="none" stroke="#111" stroke-width="1.5"/>
<path d="M69.4 554.2H73.4M69.4 519.12H73.4M69.4 484.05H73.4M69.4 448.98H73.4M69.4 413.9H73.4" stroke="#111" stroke-width="1.5"/>
<path d="M73.4 554.2V559.2M88.5 554.2V557.2M103.6 554.2V557.2M118.7 554.2V557.2M133.8 554.2V557.2M148.9 554.2V557.2M164 554.2V557.2M179.1 554.2V559.2M194.2 554.2V557.2M209.3 554.2V557.2M224.4 554.2V557.2M239.5 554.2V557.2M254.6 554.2V557.2M269.7 554.2V557.2M284.8 554.2V559.2" stroke="#111" stroke-width="1.3"/>
<text x="67" y="557.9" class="tl" text-anchor="end">0</text>
<text x="67" y="522.83" class="tl" text-anchor="end">500</text>
<text x="67" y="487.75" class="tl" text-anchor="end">1,000</text>
<text x="67" y="452.68" class="tl" text-anchor="end">1,500</text>
<text x="67" y="417.6" class="tl" text-anchor="end">2,000</text>
<text x="73.4" y="569.9" class="tl" text-anchor="middle">0</text>
<text x="179.1" y="569.9" class="tl" text-anchor="middle">7</text>
<text x="284.8" y="569.9" class="tl" text-anchor="middle">14</text>
<text transform="translate(11.2,483.1) rotate(-90)" class="at" text-anchor="middle">Tumor volume</text>
<text transform="translate(28,486.8) rotate(-90)" class="at" text-anchor="middle">(mm<tspan font-size="9px" dy="-6">3</tspan><tspan dy="6">, mean±SEM)</tspan></text>
<text x="179.8" y="588" class="xt" text-anchor="middle">Days after start of dosing</text>
<path d="M103.6 531V542M100.8 531H106.4M100.8 542H106.4M133.8 512V530M131 512H136.6M131 530H136.6M179.1 485V510M176.3 485H181.9M176.3 510H181.9M209.3 465.5V494.5M206.5 465.5H212.1M206.5 494.5H212.1M239.5 443V480M236.7 443H242.3M236.7 480H242.3M284.8 416V460M282 416H287.6M282 460H287.6" stroke="#5a3d86" stroke-width="1.3" fill="none"/>
<path d="M73.4 543.5 L103.6 536.5 L133.8 521 L179.1 497.5 L209.3 480 L239.5 461.5 L284.8 438" stroke="#5a3d86" stroke-width="1.5" fill="none" stroke-dasharray="4 3"/>
<circle cx="73.4" cy="543.5" r="3.1" fill="#5a3d86"/>
<circle cx="103.6" cy="536.5" r="3.1" fill="#5a3d86"/>
<circle cx="133.8" cy="521" r="3.1" fill="#5a3d86"/>
<circle cx="179.1" cy="497.5" r="3.1" fill="#5a3d86"/>
<circle cx="209.3" cy="480" r="3.1" fill="#5a3d86"/>
<circle cx="239.5" cy="461.5" r="3.1" fill="#5a3d86"/>
<circle cx="284.8" cy="438" r="3.1" fill="#5a3d86"/>
<path d="M103.6 530V540M100.8 530H106.4M100.8 540H106.4M133.8 510.5V528.5M131 510.5H136.6M131 528.5H136.6M179.1 484.7V509.3M176.3 484.7H181.9M176.3 509.3H181.9M209.3 465V494M206.5 465H212.1M206.5 494H212.1M239.5 442.85V479.65M236.7 442.85H242.3M236.7 479.65H242.3M284.8 416.25V466.25M282 416.25H287.6M282 466.25H287.6" stroke="#111" stroke-width="1.3" fill="none"/>
<path d="M73.4 542.5 L103.6 535 L133.8 519.5 L179.1 497 L209.3 479.5 L239.5 461.25 L284.8 441.25" stroke="#111" stroke-width="1.7" fill="none"/>
<circle cx="73.4" cy="542.5" r="3.1" fill="#111"/>
<circle cx="103.6" cy="535" r="3.1" fill="#111"/>
<circle cx="133.8" cy="519.5" r="3.1" fill="#111"/>
<circle cx="179.1" cy="497" r="3.1" fill="#111"/>
<circle cx="209.3" cy="479.5" r="3.1" fill="#111"/>
<circle cx="239.5" cy="461.25" r="3.1" fill="#111"/>
<circle cx="284.8" cy="441.25" r="3.1" fill="#111"/>
<path d="M303.8 422.9H318.1" stroke="#111" stroke-width="1.6"/>
<circle cx="310.95" cy="422.9" r="3.1" fill="#111"/>
<text x="325" y="426.9" class="lg">Vehicle twice a week</text>
<path d="M303.8 441.9H318.1" stroke="#5a3d86" stroke-width="1.6" stroke-dasharray="3 2"/>
<circle cx="310.95" cy="441.9" r="3.1" fill="#5a3d86"/>
<text x="325" y="445.9" class="lg">BCY6063 10 mg/kg twice a week</text>
</svg></body></html>
